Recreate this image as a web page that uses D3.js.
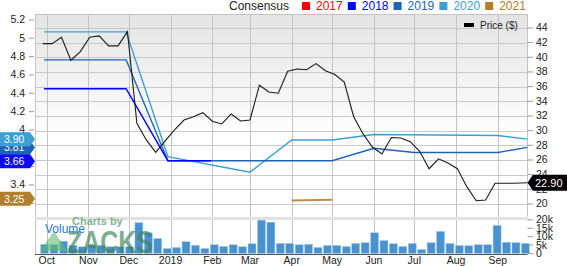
<!DOCTYPE html>
<html>
<head>
<meta charset="utf-8">
<script src="https://cdn.jsdelivr.net/npm/d3@7"></script>
<style>
  body { margin: 0; background: #fff; }
  svg { display: block; font-family: "Liberation Sans", Arial, sans-serif; }
</style>
</head>
<body>
<svg id="chart" width="567" height="266"></svg>
<script>
var W = 567, H = 266;
var LEFT = 35, RIGHT = 527.5, TOP = 14, PRICE_BOTTOM = 217, VOL_TOP = 220, VOL_BOTTOM = 254;

var parse = d3.timeParse("%Y-%m-%d");

// weekly closing prices (right axis)
var priceDates = ["2018-09-28","2018-10-05","2018-10-12","2018-10-19","2018-10-26","2018-11-02","2018-11-09","2018-11-16","2018-11-23","2018-11-30",
  "2018-12-07","2018-12-14","2018-12-21","2018-12-28","2019-01-04","2019-01-11","2019-01-18","2019-01-25","2019-02-01","2019-02-08",
  "2019-02-15","2019-02-22","2019-03-01","2019-03-08","2019-03-15","2019-03-22","2019-03-29","2019-04-05","2019-04-12","2019-04-19",
  "2019-04-26","2019-05-03","2019-05-10","2019-05-17","2019-05-24","2019-05-31","2019-06-07","2019-06-14","2019-06-21","2019-06-28",
  "2019-07-05","2019-07-12","2019-07-19","2019-07-26","2019-08-02","2019-08-09","2019-08-16","2019-08-23","2019-08-30","2019-09-06",
  "2019-09-13","2019-09-23"];
var prices = [41.86, 41.86, 42.73, 39.6, 40.77, 42.73, 42.91, 41.55, 41.55, 43.5,
  31.0, 28.73, 27.05, 28.6, 30.09, 31.45, 31.9, 32.45, 31.28, 30.91,
  32.27, 31.32, 31.45, 36.19, 35.27, 35.1, 38.1, 38.41, 38.31, 39.13,
  38.16, 37.65, 36.61, 31.9, 29.55, 27.73, 26.82, 29.07, 29.0, 28.5,
  27.19, 24.81, 26.16, 25.59, 24.81, 22.36, 20.45, 20.54, 22.82, 22.82,
  22.82, 22.90];

// weekly volume, thousands of shares
var volumes = [5.4, 5.4, 7.3, 4.9, 4.0, 4.9, 4.9, 4.0, 4.0, 4.0, 18.3, 12.3, 8.9, 3.0, 3.6, 7.0, 4.9,
  3.0, 5.2, 4.2, 5.2, 4.0, 5.8, 19.8, 18.6, 6.0, 6.0, 5.2, 5.5, 3.6, 4.8, 4.8, 4.2, 6.0, 6.4,
  12.3, 7.7, 5.8, 4.2, 6.0, 2.4, 6.4, 13.1, 6.0, 4.8, 4.6, 5.2, 5.2, 16.7, 6.7, 6.5, 6.0];
var volumeDates = priceDates.slice(0, 51).concat(["2019-09-20"]);

// consensus EPS estimates (left axis)
var years = ["2017", "2018", "2019", "2020", "2021"];
var yearColors = ["#ff0000", "#0000ff", "#1f63b6", "#3c9fd2", "#b27d2c"];
var cons2018Dates = ["2018-09-29", "2018-11-29", "2018-12-30", "2019-01-31"];
var cons2018 = [4.45, 4.45, 3.665, 3.665];
var cons2019Dates = ["2018-09-29", "2018-11-29", "2018-12-30", "2019-05-01", "2019-06-01", "2019-07-01", "2019-09-01", "2019-09-23"];
var cons2019 = [4.765, 4.765, 3.665, 3.665, 3.80, 3.755, 3.755, 3.81];
var cons2020Dates = ["2018-09-29", "2018-11-29", "2018-12-30", "2019-03-01", "2019-04-01", "2019-05-01", "2019-06-01", "2019-09-01", "2019-09-23"];
var cons2020 = [5.07, 5.07, 3.71, 3.54, 3.89, 3.89, 3.95, 3.94, 3.90];
var cons2021Dates = ["2019-04-01", "2019-05-01"];
var cons2021 = [3.23, 3.24];

var badgeLabels = ["3.81", "3.90", "3.66", "3.25"];
var badgeColors = ["#1f63b6", "#3c9fd2", "#0a0af5", "#b27d2c"];

var leftTicks = [5.2, 5, 4.8, 4.6, 4.4, 4.2, 4, 3.8, 3.6, 3.4, 3.2];
var leftLabels = [5.2, 5, 4.8, 4.6, 4.4, 4.2, 4, 3.4];   // the rest sit under the badges
var rightTicks = [44, 42, 40, 38, 36, 34, 32, 30, 28, 26, 24, 22, 20];
var volTicks = [0, 5, 10, 15, 20];
var monthLabels = ["Oct", "Nov", "Dec", "2019", "Feb", "Mar", "Apr", "May", "Jun", "Jul", "Aug", "Sep"];

var svg = d3.select("#chart");

var x = d3.scaleTime()
  .domain([new Date(2018, 8, 22, 8), new Date(2019, 8, 23, 2)])
  .range([LEFT, RIGHT]);
var yEps = d3.scaleLinear().domain([3.04, 5.265]).range([PRICE_BOTTOM + 1, TOP]);
var yPrice = d3.scaleLinear().domain([18.09, 45.9]).range([PRICE_BOTTOM + 1, TOP]);
var yVol = d3.scaleLinear().domain([0, 20]).range([VOL_BOTTOM - 0.5, 219.8]);

// background gradient
var grad = svg.append("defs").append("linearGradient")
  .attr("id", "bg").attr("x1", 0).attr("y1", 0).attr("x2", 0).attr("y2", 1);
grad.append("stop").attr("offset", "0%").attr("stop-color", "#e4e4e4");
grad.append("stop").attr("offset", "60%").attr("stop-color", "#ffffff");
svg.append("rect").attr("x", LEFT).attr("y", TOP).attr("width", RIGHT - LEFT).attr("height", PRICE_BOTTOM - TOP)
  .attr("fill", "url(#bg)");

// horizontal grid from price ticks
svg.append("g").selectAll("line").data(rightTicks).join("line")
  .attr("x1", LEFT).attr("x2", RIGHT)
  .attr("y1", d => Math.round(yPrice(d)) + 0.5).attr("y2", d => Math.round(yPrice(d)) + 0.5)
  .attr("stroke", "#c9c9c9");

// month grid
var months = d3.timeMonth.range(new Date(2018, 9, 1), new Date(2019, 8, 2));
svg.append("g").selectAll("line").data(months).join("line")
  .attr("x1", d => Math.round(x(d)) + 0.5).attr("x2", d => Math.round(x(d)) + 0.5)
  .attr("y1", TOP).attr("y2", VOL_BOTTOM)
  .attr("stroke", "#c4c4c4");

// borders and panel separator
svg.append("line").attr("x1", LEFT + 0.5).attr("x2", LEFT + 0.5).attr("y1", TOP).attr("y2", VOL_BOTTOM).attr("stroke", "#c4c4c4");
svg.append("line").attr("x1", RIGHT).attr("x2", RIGHT).attr("y1", TOP).attr("y2", PRICE_BOTTOM).attr("stroke", "#c4c4c4");
svg.append("line").attr("x1", LEFT).attr("x2", RIGHT).attr("y1", TOP + 0.5).attr("y2", TOP + 0.5).attr("stroke", "#c4c4c4");
svg.append("rect").attr("x", LEFT).attr("y", PRICE_BOTTOM).attr("width", RIGHT - LEFT).attr("height", 3).attr("fill", "#e2e2e2");

// volume bars
svg.append("g").selectAll("rect").data(volumes).join("rect")
  .attr("x", (d, i) => x(d3.timeHour.offset(parse(volumeDates[i]), 36)) - 4)
  .attr("y", d => yVol(d))
  .attr("width", 8)
  .attr("height", d => yVol(0) - yVol(d))
  .attr("fill", "#4a91cf")
  .attr("stroke", "#a9cdec").attr("stroke-width", 0.5);

// watermark
svg.append("path")
  .attr("d", "M40,251L54,231L67,251Z")
  .attr("fill", "#5fbf6c").attr("opacity", 0.6);
svg.append("text").attr("x", 72).attr("y", 225).text("Charts by")
  .attr("font-size", 11).attr("font-weight", "bold").attr("fill", "#6aaa7c").attr("opacity", 0.85);
svg.append("text").attr("x", 67).attr("y", 253).text("ZACKS")
  .attr("font-size", 31).attr("font-weight", "bold").attr("fill", "#3a8458").attr("opacity", 0.65)
  .attr("textLength", 86).attr("lengthAdjust", "spacingAndGlyphs");
svg.append("text").attr("x", 45).attr("y", 233).text("Volume")
  .attr("font-size", 12).attr("fill", "#2b7bcf");

// x axis baseline
svg.append("line").attr("x1", LEFT).attr("x2", RIGHT).attr("y1", VOL_BOTTOM + 0.5).attr("y2", VOL_BOTTOM + 0.5).attr("stroke", "#555");

// consensus lines
var epsLine = d3.line().x(d => x(d[0])).y(d => yEps(d[1]));
function series(dates, vals) { return dates.map((d, i) => [parse(d), vals[i]]); }
var consSeries = [
  { data: series(cons2021Dates, cons2021), color: yearColors[4], w: 2 },
  { data: series(cons2020Dates, cons2020), color: yearColors[3], w: 1.4 },
  { data: series(cons2019Dates, cons2019), color: yearColors[2], w: 1.4 },
  { data: series(cons2018Dates, cons2018), color: yearColors[1], w: 1.4 }
];
svg.append("g").selectAll("path").data(consSeries).join("path")
  .attr("d", d => epsLine(d.data))
  .attr("fill", "none").attr("stroke", d => d.color).attr("stroke-width", d => d.w)
  .attr("opacity", d => d.color === yearColors[4] ? 0.85 : 1);

// price line
var priceLine = d3.line().x((d, i) => x(parse(priceDates[i]))).y(d => yPrice(d));
svg.append("path").attr("d", priceLine(prices))
  .attr("fill", "none").attr("stroke", "#1a1a1a").attr("stroke-width", 1.1);

// left axis
var gl = svg.append("g");
gl.selectAll("line").data(leftTicks).join("line")
  .attr("x1", 29).attr("x2", 34).attr("y1", d => yEps(d)).attr("y2", d => yEps(d)).attr("stroke", "#999");
gl.selectAll("text").data(leftLabels).join("text")
  .attr("x", 25).attr("y", d => yEps(d) + 3.5).attr("text-anchor", "end")
  .attr("font-size", 10.5).attr("fill", "#222").text(d => +d.toFixed(1));

// right axis
var gr = svg.append("g");
gr.selectAll("line").data(rightTicks).join("line")
  .attr("x1", RIGHT).attr("x2", 533).attr("y1", d => yPrice(d)).attr("y2", d => yPrice(d)).attr("stroke", "#999");
gr.selectAll("text").data(rightTicks).join("text")
  .attr("x", 536).attr("y", d => yPrice(d) + 3.5)
  .attr("font-size", 10.5).attr("fill", "#222").text(d => d);

var gv = svg.append("g");
gv.selectAll("line").data(volTicks).join("line")
  .attr("x1", RIGHT).attr("x2", 533).attr("y1", d => yVol(d)).attr("y2", d => yVol(d)).attr("stroke", "#999");
gv.selectAll("text").data(volTicks).join("text")
  .attr("x", 536).attr("y", d => yVol(d) + 3.5)
  .attr("font-size", 10.5).attr("fill", "#222").text(d => d === 0 ? "0" : d + "k");

// month labels
svg.append("g").selectAll("text").data(months).join("text")
  .attr("x", d => x(d)).attr("y", 263.5).attr("text-anchor", "middle")
  .attr("font-size", 10.5).attr("fill", "#222").text((d, i) => monthLabels[i]);

// left value badges
var gb = svg.append("g");
badgeLabels.forEach(function(lbl, i) {
  var cy = yEps(+lbl);
  gb.append("path")
    .attr("d", "M0," + (cy - 7) + "H30L35," + cy + "L30," + (cy + 7) + "H0Z")
    .attr("fill", badgeColors[i]);
  gb.append("text").attr("x", 4).attr("y", cy + 4).text(lbl)
    .attr("font-size", 10.5).attr("fill", "#fff");
});

// price badge
var last = prices[prices.length - 1];
var py = yPrice(last);
svg.append("path")
  .attr("d", "M" + RIGHT + "," + py + "L533," + (py - 8) + "H567V" + (py + 8) + "H533Z")
  .attr("fill", "#000");
svg.append("text").attr("x", 535).attr("y", py + 4).text(last.toFixed(2))
  .attr("font-size", 11).attr("fill", "#fff");

// price legend
svg.append("rect").attr("x", 464).attr("y", 23).attr("width", 10).attr("height", 4).attr("fill", "#000");
svg.append("text").attr("x", 480).attr("y", 28.5).text("Price ($)").attr("font-size", 10).attr("fill", "#222");

// consensus legend
svg.append("text").attr("x", 229).attr("y", 10).text("Consensus").attr("font-size", 12).attr("fill", "#222");
var lg = svg.append("g").selectAll("g").data(years).join("g")
  .attr("transform", (d, i) => "translate(" + (302 + i * 45.8) + ",0)");
lg.append("rect").attr("x", 0).attr("y", 2).attr("width", 8).attr("height", 8).attr("fill", (d, i) => yearColors[i]);
lg.append("text").attr("x", 14).attr("y", 10).text(d => d).attr("font-size", 12).attr("fill", (d, i) => yearColors[i]);
</script>
</body>
</html>
